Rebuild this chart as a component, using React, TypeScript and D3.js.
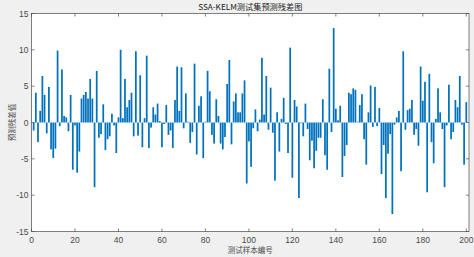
import React from "react";
import * as d3 from "d3";

const residuals: number[] = [
  -1.1, 4.1, -2.7, 1.6, 6.4, 3.8, -1.5, 4.9, -3.7, -4.9,
  -3.6, 9.9, -0.5, 7.3, 0.9, 0.7, -1.2, 3.8, -6.5, -0.4,
  -6.9, -4.0, 3.3, 3.8, 4.2, 3.3, 6.0, 3.3, -8.9, 7.1,
  -2.1, -1.6, 2.5, -3.8, -2.3, -1.9, 1.2, -0.4, -4.2, 0.7,
  10.0, 0.6, 6.0, 2.1, 3.1, 4.1, -1.9, 9.8, -1.8, 6.5,
  -3.4, 0.6, 9.2, -3.5, -0.7, 2.1, 1.1, 2.6, 0.2, -3.4,
  -0.2, 2.4, -1.7, -1.1, -3.5, 3.1, 7.7, 1.6, 7.6, -0.8,
  4.0, 0.1, -2.8, -1.3, 8.1, -4.4, 2.3, 3.6, -4.9, 0.1,
  7.1, 4.3, -1.7, -2.9, 3.2, 0.9, -2.9, -3.7, -2.0, 5.3,
  8.6, -3.0, 2.9, 4.0, 1.4, 1.4, 4.0, 5.8, -8.4, -2.6,
  -6.1, -0.8, 1.8, -1.2, 0.4, 8.9, 1.1, 6.4, -1.0, 4.8,
  -1.4, -8.0, 1.4, -4.0, 0.5, 3.4, -0.2, -4.2, 10.3, -7.6,
  3.1, 2.2, -10.4, -0.1, -1.9, 2.6, -0.9, -5.2, -2.5, -6.3,
  -3.9, -2.1, -2.1, 3.2, -4.5, -6.5, 7.4, -1.3, 13.0, 1.9,
  0.3, 2.3, -7.5, -4.6, -3.1, 4.1, 3.9, 4.7, 4.5, 0.1,
  2.4, 3.9, -2.3, -5.8, 1.4, 5.1, -0.6, 4.9, -0.5, 2.0,
  -7.1, -3.1, -10.4, -4.3, -1.6, -12.6, -0.3, 0.7, 1.6, -6.7,
  9.8, -1.0, 1.7, 1.9, 3.1, -1.7, -0.9, -3.2, 7.7, 3.0,
  5.6, -9.6, 6.7, -2.7, -5.6, 0.5, 4.7, 1.4, -0.9, -8.9,
  -0.4, 5.2, -2.3, -1.3, 3.1, 2.1, 6.4, -0.3, -5.8, 2.8,
];

const xTicks: number[] = [0, 20, 40, 60, 80, 100, 120, 140, 160, 180, 200];
const yTicks: number[] = [-15, -10, -5, 0, 5, 10, 15];

const titleText = "SSA-KELM测试集预测残差图";
const xLabelText = "测试样本编号";
const yLabelText = "预测残差值";

const W = 474;
const H = 257;
const left = 31.5;
const right = 469;
const top = 13.5;
const bottom = 231.5;

export default function App() {
  const x = d3.scaleLinear().domain([0, 201.25]).range([left, right]);
  const y = d3.scaleLinear().domain([-15, 15]).range([bottom, top]);
  const bw = (x(1) - x(0)) * 0.8;
  const axisColor = "#4a4a4a";
  const textColor = "#4a4a4a";
  const font = "Arial, 'Liberation Sans', Helvetica, sans-serif";
  const cjk = "'Noto Sans CJK SC', sans-serif";
  return (
    <svg
      width={W}
      height={H}
      style={{ position: "absolute", left: 0, top: 0, display: "block" }}
    >
      <rect x={0} y={0} width={W} height={H} fill="#f0f0f0" />
      <rect x={left} y={top} width={right - left} height={bottom - top} fill="#ffffff" />
      {residuals.map((v, i) => {
        const xi = x(i + 1);
        const y0 = y(0);
        const yv = y(v);
        return (
          <rect
            key={i}
            x={xi - bw / 2}
            y={Math.min(y0, yv)}
            width={bw}
            height={Math.abs(yv - y0)}
            fill="#0072BD"
          />
        );
      })}
      <rect
        x={left}
        y={top}
        width={right - left}
        height={bottom - top}
        fill="none"
        stroke={axisColor}
        strokeWidth={0.7}
      />
      {xTicks.map((t) => (
        <g key={"xt" + t}>
          <line x1={x(t)} x2={x(t)} y1={bottom} y2={bottom - 3} stroke={axisColor} strokeWidth={0.7} />
          <line x1={x(t)} x2={x(t)} y1={top} y2={top + 3} stroke={axisColor} strokeWidth={0.7} />
          <text
            x={x(t)}
            y={bottom + 11}
            textAnchor="middle"
            fontFamily={font}
            fontSize={8.5}
            fill={textColor}
          >
            {t}
          </text>
        </g>
      ))}
      {yTicks.map((t) => (
        <g key={"yt" + t}>
          <line x1={left} x2={left + 3} y1={y(t)} y2={y(t)} stroke={axisColor} strokeWidth={0.7} />
          <line x1={right} x2={right - 3} y1={y(t)} y2={y(t)} stroke={axisColor} strokeWidth={0.7} />
          <text
            x={left - 3}
            y={y(t) + 3}
            textAnchor="end"
            fontFamily={font}
            fontSize={8.5}
            fill={textColor}
          >
            {t}
          </text>
        </g>
      ))}
      <text
        x={(left + right) / 2}
        y={9.5}
        textAnchor="middle"
        fontFamily={cjk}
        fontSize={8.2}
        fill="#222"
      >
        {titleText}
      </text>
      <text
        x={(left + right) / 2}
        y={253}
        textAnchor="middle"
        fontFamily={cjk}
        fontSize={7.5}
        fill={textColor}
      >
        {xLabelText}
      </text>
      <text
        transform={`translate(14.5, ${(top + bottom) / 2}) rotate(-90)`}
        textAnchor="middle"
        fontFamily={cjk}
        fontSize={7.5}
        fill={textColor}
      >
        {yLabelText}
      </text>
    </svg>
  );
}
